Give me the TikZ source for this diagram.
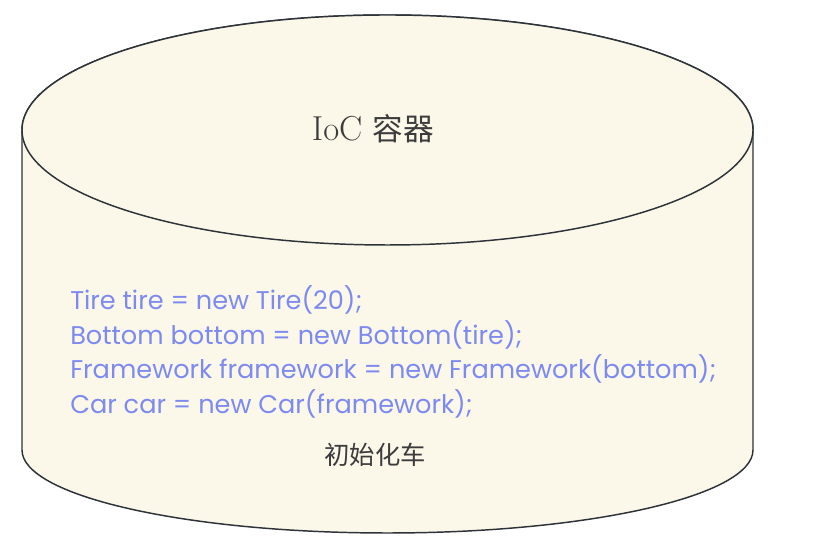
\documentclass[tikz,border=0pt]{standalone}
\usepackage{fontspec}
\newfontfamily\cjk{Noto Sans CJK SC}
\newfontfamily\codefont{Poppins}
\definecolor{cylfill}{RGB}{251,248,234}
\definecolor{cylline}{RGB}{45,51,57}
\definecolor{codeblue}{RGB}{125,138,240}
\definecolor{txtgray}{RGB}{60,60,60}
\tikzset{
  cyl/.style={draw=cylline,line width=1.1pt,fill=cylfill},
  codeline/.style={anchor=base west,inner sep=0pt,text=codeblue,font=\codefont\fontsize{19.2}{23}\selectfont},
  titletext/.style={inner sep=0pt,text=txtgray,font=\fontsize{26}{30}\selectfont},
  labeltext/.style={inner sep=0pt,text=txtgray,font=\cjk\fontsize{19}{23}\selectfont}
}
\begin{document}
\begin{tikzpicture}[x=0.75pt,y=0.75pt]
\useasboundingbox (0,0) rectangle (818,555);
% cylinder body
\path[cyl] (22,425) -- (22,105)
  arc[start angle=180,end angle=360,x radius=365.5,y radius=83]
  -- (753,425)
  arc[start angle=0,end angle=180,x radius=365.5,y radius=115] -- cycle;
% top ellipse
\draw[cyl] (387.5,425) ellipse [x radius=365.5,y radius=115];
% texts
\node[titletext] (title) at (373,426) {IoC {\cjk\fontsize{23}{27}\selectfont 容器}};
\node[codeline] (c1) at (70,245) {Tire tire = new Tire(20);};
\node[codeline] (c2) at (70,210.5) {Bottom bottom = new Bottom(tire);};
\node[codeline] (c3) at (70,176) {Framework framework = new Framework(bottom);};
\node[codeline] (c4) at (70,141.5) {Car car = new Car(framework);};
\node[labeltext] (init) at (375,100) {初始化车};
\end{tikzpicture}
\end{document}
